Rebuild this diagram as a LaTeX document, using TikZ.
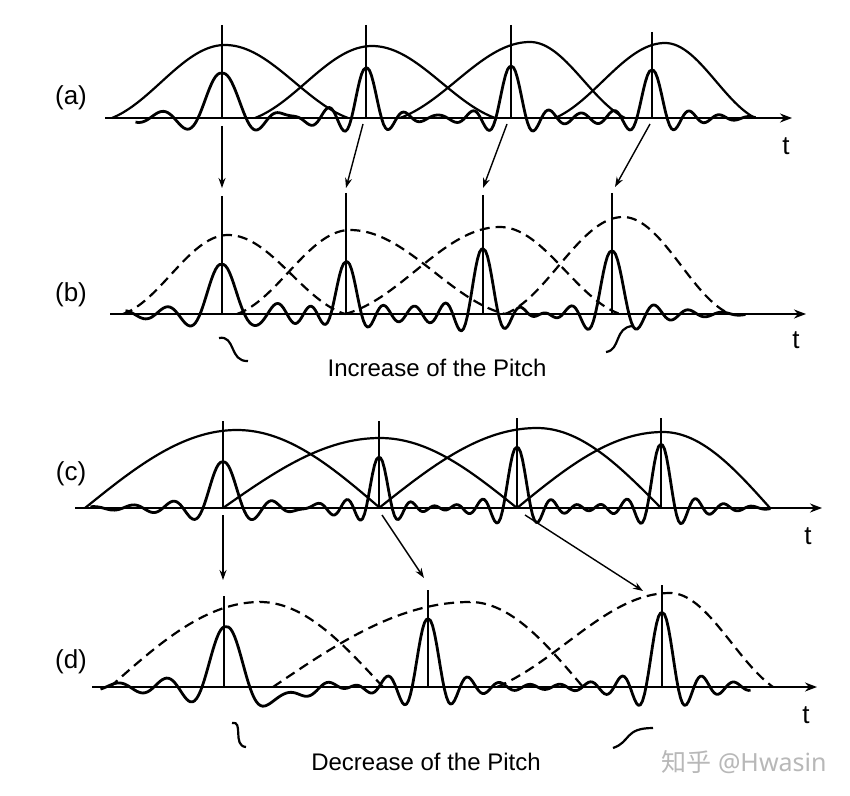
\documentclass[tikz,border=0pt]{standalone}
\usepackage{fontspec}
\setmainfont{Liberation Sans}
\newfontfamily\cjkfont{Noto Sans CJK SC}
\newfontfamily\wmfont{Noto Sans}
\usetikzlibrary{arrows.meta}
% window: style, base, xl, xp, xr, H, q
\newcommand\pswin[7]{%
  \draw[#1] plot[domain=#3:#4, samples=40] (\x,{#2 - #6*( #7*sin((\x-#3)/(#4-#3)*90) + (1-#7)*sin((\x-#3)/(#4-#3)*90)*sin((\x-#3)/(#4-#3)*90) )})
   -- plot[domain=#4:#5, samples=40] (\x,{#2 - #6*( #7*cos((\x-#4)/(#5-#4)*90) + (1-#7)*cos((\x-#4)/(#5-#4)*90)*cos((\x-#4)/(#5-#4)*90) )});}
\begin{document}
\begin{tikzpicture}[x=0.5pt,y=-0.5pt,
  declare function={sincp(\u)=sin(180*\u)/(pi*\u)*(1+0.15*abs(\u))*exp(-\u*\u/36);
                    gss(\u)=exp(-\u*\u);},
  sig/.style={line width=1.4pt, line join=round},
  win/.style={line width=1.1pt},
  dwin/.style={line width=1.1pt, dash pattern=on 5pt off 3pt},
  taxis/.style={line width=0.9pt, -{Stealth[length=6pt,width=4.5pt]}},
  pmark/.style={line width=1pt},
  mv/.style={line width=0.7pt, -{Stealth[length=5pt,width=3.5pt]}},
  squig/.style={line width=1.1pt},
  lbl/.style={font=\fontsize{13}{15}\selectfont},
  captxt/.style={font=\fontsize{12}{14}\selectfont}]
\fill[white] (0,0) rectangle (850,796);
\useasboundingbox (0,0) rectangle (850,796);

% ---------------- (a) ----------------
\coordinate (a0) at (105,118); \coordinate (aE) at (792,118);
\draw[taxis] (a0) -- (aE);
\node[lbl] (la) at (71,98) {(a)};
\node[lbl] (ta) at (786,146) {t};
\pswin{win}{118}{112}{225}{348}{73}{0.4}
\pswin{win}{118}{255}{372}{495}{72}{0.4}
\pswin{win}{118}{400}{530}{625}{76}{0.4}
\pswin{win}{118}{555}{665}{755}{75}{0.4}
\draw[sig] plot[domain=135.5:755.5, samples=311] (\x,{118 - 45*sincp((\x-222)/24) - 50*sincp((\x-366)/15) - 52*sincp((\x-511)/15) - 48*sincp((\x-652)/15)});
\foreach \n/\xx/\yt in {1/222/25, 2/366/25, 3/511/25, 4/652/32}{
  \coordinate (pa\n t) at (\xx,\yt); \coordinate (pa\n b) at (\xx,118);
  \draw[pmark] (pa\n t) -- (pa\n b);
}

% ---------------- (b) ----------------
\coordinate (b0) at (110,314); \coordinate (bE) at (806,314);
\draw[taxis] (b0) -- (bE);
\node[lbl] (lb) at (71,295) {(b)};
\node[lbl] (tb) at (796,340) {t};
\pswin{dwin}{314}{123}{228}{345}{79}{0.3}
\pswin{dwin}{314}{237}{350}{505}{84}{0.3}
\pswin{dwin}{314}{345}{500}{620}{87}{0.3}
\pswin{dwin}{314}{505}{623}{730}{97}{0.3}
\draw[sig] plot[domain=125.5:745.5, samples=311] (\x,{314 - 49*sincp((\x-222)/22) - 54*sincp((\x-346)/15) - 66*sincp((\x-483)/15) - 62*sincp((\x-612)/17)});
\foreach \n/\xx/\yt in {1/222/196, 2/346/193, 3/483/195, 4/612/193}{
  \coordinate (pb\n t) at (\xx,\yt); \coordinate (pb\n b) at (\xx,314);
  \draw[pmark] (pb\n t) -- (pb\n b);
}
% arrows a -> b
\coordinate (ma1) at (222,126); \coordinate (mb1) at (222,188);
\coordinate (ma2) at (363,124); \coordinate (mb2) at (346,188);
\coordinate (ma3) at (507,124); \coordinate (mb3) at (483,188);
\coordinate (ma4) at (650,124); \coordinate (mb4) at (615,187);
\foreach \n in {1,2,3,4}{ \draw[mv] (ma\n) -- (mb\n); }
% squiggles
\draw[squig] (219,338) .. controls (236,335) and (229,362) .. (248,361);
\draw[squig] (606,352) .. controls (621,350) and (614,327) .. (633,326);
\node[captxt] (capb) at (437,368) {Increase of the Pitch};

% ---------------- (c) ----------------
\coordinate (c0) at (75,508); \coordinate (cE) at (822,508);
\draw[taxis] (c0) -- (cE);
\node[lbl] (lc) at (71,474) {(c)};
\node[lbl] (tc) at (808,536) {t};
\pswin{win}{508}{85}{237}{380}{78}{1}
\pswin{win}{508}{223}{380}{517}{70}{1}
\pswin{win}{508}{379}{537}{661}{80}{1}
\pswin{win}{508}{517}{663}{770}{76}{1}
\draw[sig] plot[domain=90.5:770.5, samples=341] (\x,{508 - 46*sincp((\x-223)/20) - 51*sincp((\x-379)/13) - 60*sincp((\x-517)/14) - 63*sincp((\x-661)/14)});
\foreach \n/\xx/\yt in {1/223/421, 2/379/421, 3/517/418, 4/661/418}{
  \coordinate (pc\n t) at (\xx,\yt); \coordinate (pc\n b) at (\xx,508);
  \draw[pmark] (pc\n t) -- (pc\n b);
}

% ---------------- (d) ----------------
\coordinate (d0) at (92,687); \coordinate (dE) at (817,687);
\draw[taxis] (d0) -- (dE);
\node[lbl] (ld) at (71,662) {(d)};
\node[lbl] (td) at (806,715) {t};
\pswin{dwin}{687}{110}{260}{383}{85}{1}
\pswin{dwin}{687}{273}{470}{583}{85}{1}
\pswin{dwin}{687}{497}{670}{773}{94}{0.5}
\draw[sig] plot[domain=100.5:750.5, samples=326] (\x,{687 - 60*sincp((\x-226)/24) - 67*sincp((\x-428)/16) - 74*sincp((\x-662)/16) + 16*gss((\x-282)/18)});
\foreach \n/\xx/\yt in {1/224/596, 2/428/590, 3/662/585}{
  \coordinate (pd\n t) at (\xx,\yt); \coordinate (pd\n b) at (\xx,687);
  \draw[pmark] (pd\n t) -- (pd\n b);
}
% arrows c -> d
\coordinate (mc1) at (223,515); \coordinate (md1) at (223,580);
\coordinate (mc2) at (382,515); \coordinate (md2) at (424,578);
\coordinate (mc3) at (525,515); \coordinate (md3) at (643,591);
\foreach \n in {1,2,3}{ \draw[mv] (mc\n) -- (md\n); }
% squiggles
\draw[squig] (232,723) .. controls (244,720) and (232,746) .. (246,747);
\draw[squig] (613,748) .. controls (631,742) and (624,728) .. (653,728);
\node[captxt] (capd) at (426,762) {Decrease of the Pitch};

% watermark
\node[anchor=west, text=black!28, font=\fontsize{12.5}{14}\selectfont] (wm) at (654,762) {{\cjkfont 知乎}\ {\wmfont @Hwasin}};
\end{tikzpicture}
\end{document}
